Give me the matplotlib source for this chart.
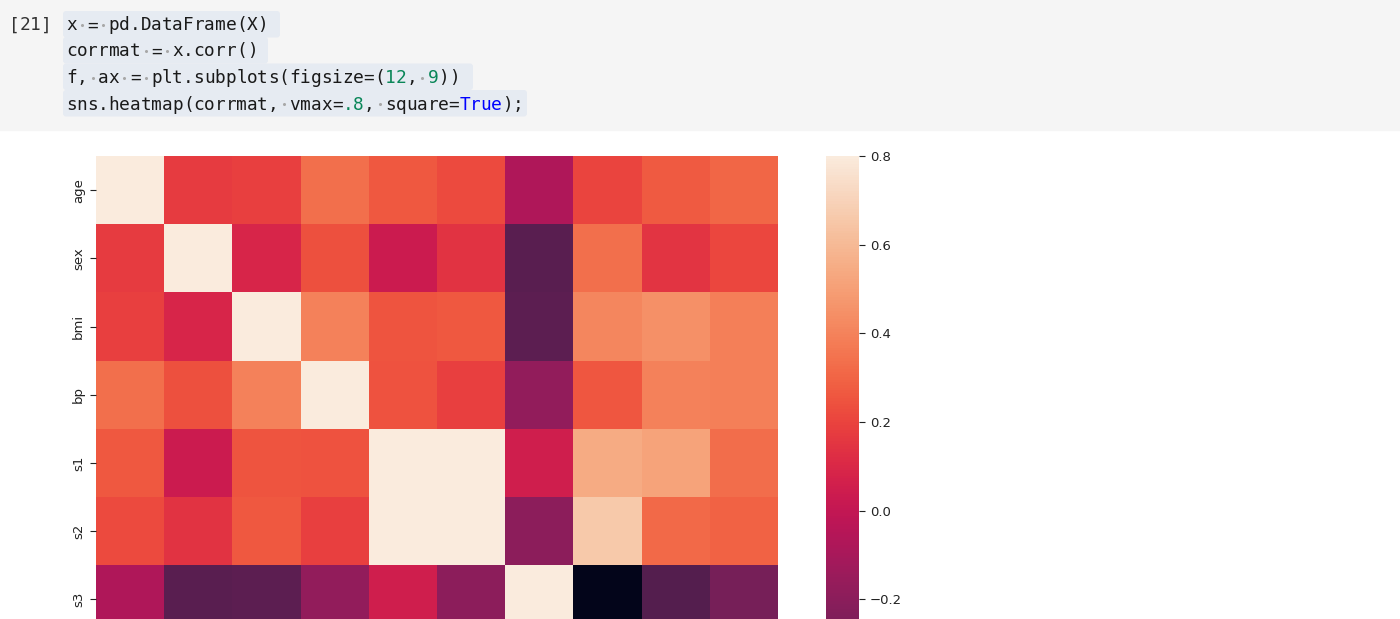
import numpy as np
import pandas as pd
import matplotlib
matplotlib.use("Agg")
import matplotlib.pyplot as plt
from matplotlib.patches import Rectangle, FancyBboxPatch
import seaborn as sns

# Data: correlation matrix of the diabetes features
features = ["age", "sex", "bmi", "bp", "s1", "s2", "s3", "s4", "s5", "s6"]
corr_rows = [
    [1.000, 0.174, 0.185, 0.335, 0.260, 0.219, -0.075, 0.204, 0.271, 0.302],
    [0.174, 1.000, 0.088, 0.241, 0.035, 0.143, -0.379, 0.332, 0.150, 0.208],
    [0.185, 0.088, 1.000, 0.395, 0.250, 0.261, -0.367, 0.414, 0.446, 0.389],
    [0.335, 0.241, 0.395, 1.000, 0.242, 0.186, -0.179, 0.258, 0.393, 0.390],
    [0.260, 0.035, 0.250, 0.242, 1.000, 0.897, 0.052, 0.542, 0.516, 0.326],
    [0.219, 0.143, 0.261, 0.186, 0.897, 1.000, -0.196, 0.660, 0.318, 0.291],
    [-0.075, -0.379, -0.367, -0.179, 0.052, -0.196, 1.000, -0.738, -0.399, -0.274],
    [0.204, 0.332, 0.414, 0.258, 0.542, 0.660, -0.738, 1.000, 0.618, 0.417],
    [0.271, 0.150, 0.446, 0.393, 0.516, 0.318, -0.399, 0.618, 1.000, 0.465],
    [0.302, 0.208, 0.389, 0.390, 0.326, 0.291, -0.274, 0.417, 0.465, 1.000],
]
corrmat = pd.DataFrame(corr_rows, index=features, columns=features)

# labels / ticks that fall inside the cropped screenshot
visible_rows = features[:7]
cbar_ticks = [-0.2, 0.0, 0.2, 0.4, 0.6, 0.8]

# Code cell text: list of (text, colour) tokens per line
code_lines = [
    [("x = pd.DataFrame(X)", None)],
    [("corrmat = x.corr()", None)],
    [("f, ax = plt.subplots(figsize=(", None), ("12", "num"), (", ", None),
     ("9", "num"), ("))", None)],
    [("sns.heatmap(corrmat, vmax=", None), (".8", "num"), (", square=", None),
     ("True", "kw"), (");", None)],
]
box_ends = [280, 268, 473, 527]
prompt = "[21]"

W, H = 1400, 619
fig = plt.figure(figsize=(W / 100, H / 100), dpi=100)

# overlay axes in pixel coordinates for the notebook chrome
bg = fig.add_axes([0, 0, 1, 1])
bg.set_xlim(0, W)
bg.set_ylim(H, 0)
bg.axis("off")
bg.add_patch(Rectangle((0, 0), W, 130, color="#f5f5f5", zorder=0))

colors = {None: "#1a1a1a", "num": "#098658", "kw": "#0000ff"}
x0, cw = 66, 10.63
line_top = [11, 37, 63.5, 90]
line_h = 26.5
mono = "DejaVu Sans Mono"

for i in range(len(code_lines)):
    bg.add_patch(FancyBboxPatch((x0 - 3, line_top[i]), box_ends[i] - x0 + 3, line_h,
                                boxstyle="round,pad=0,rounding_size=3",
                                fc="#e6ebf2", ec="none", zorder=1))

dots_x, dots_y = [], []
for i, tokens in enumerate(code_lines):
    base = line_top[i] + 19.5
    col = 0
    for text, kind in tokens:
        for ch in text:
            cx = x0 + (col + 0.5) * cw
            if ch == " ":
                dots_x.append(cx)
                dots_y.append(base - 5.5)
            else:
                bg.text(cx, base, ch, ha="center", va="baseline",
                        fontsize=12.8, color=colors[kind], family=mono, zorder=3)
            col += 1
bg.plot(dots_x, dots_y, "o", ms=2.2, color="#a8a8a8", mec="none", zorder=3)

for j, ch in enumerate(prompt):
    bg.text(9 + (j + 0.5) * cw, line_top[0] + 19.5, ch, ha="center", va="baseline",
            fontsize=12.8, color="#333333", family=mono, zorder=3)

# heatmap, partly outside the visible area (cropped output)
side = 682
top = 156
ax = fig.add_axes([96 / W, (H - top - side) / H, side / W, side / H])
cax = fig.add_axes([826 / W, (H - top - side) / H, 33 / W, side / H])
sns.heatmap(corrmat, vmax=.8, square=True, ax=ax, cbar_ax=cax)

ax.set_yticks(np.arange(len(visible_rows)) + 0.5)
ax.set_yticklabels(visible_rows, rotation=90, va="center")
ax.tick_params(axis="x", bottom=False, labelbottom=False)
ax.tick_params(labelsize=9.5, colors="#222222", length=4.5)
cax.set_yticks(cbar_ticks)
cax.tick_params(labelsize=9.5, colors="#222222", length=4.5)

fig.savefig("out.png", dpi=100)
